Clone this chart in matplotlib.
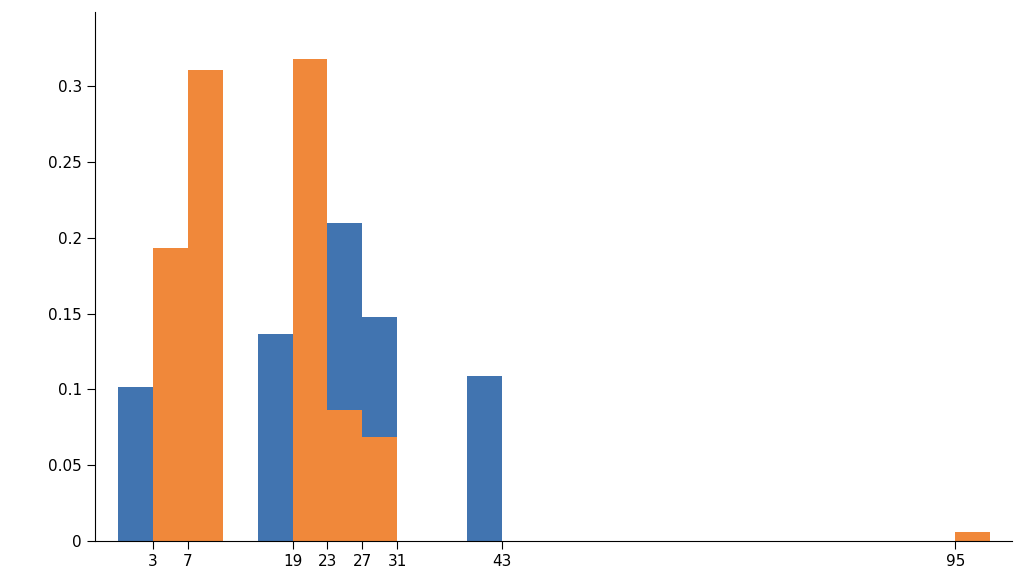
import matplotlib.pyplot as plt

# bins given by left edge, width 4
blue_left = [-1, 3, 15, 23, 27, 39]
blue_vals = [0.1015, 0.124, 0.1365, 0.210, 0.148, 0.109]
orange_left = [3, 7, 19, 23, 27, 95]
orange_vals = [0.193, 0.3105, 0.318, 0.0864, 0.0686, 0.006]
xticks = [3, 7, 19, 23, 27, 31, 43, 95]
yticks = [0, 0.05, 0.1, 0.15, 0.2, 0.25, 0.3]

fig = plt.figure(figsize=(10.34, 5.88), dpi=100)
ax = fig.add_axes([95/1034, 47/588, (1012-95)/1034, (541-12)/588])

ax.bar(blue_left, blue_vals, width=4, align="edge", color="#4174b0")
ax.bar(orange_left, orange_vals, width=4, align="edge", color="#f0883a")

ax.set_xlim(-3.65, 101.5)
ax.set_ylim(0, 0.349)
ax.set_xticks(xticks)
ax.set_xticklabels([str(t) for t in xticks])
ax.set_yticks(yticks)
ax.set_yticklabels(["0", "0.05", "0.1", "0.15", "0.2", "0.25", "0.3"])
ax.tick_params(labelsize=11, length=6)
for s in ["top", "right"]:
    ax.spines[s].set_visible(False)

fig.savefig("out.png", dpi=100)
